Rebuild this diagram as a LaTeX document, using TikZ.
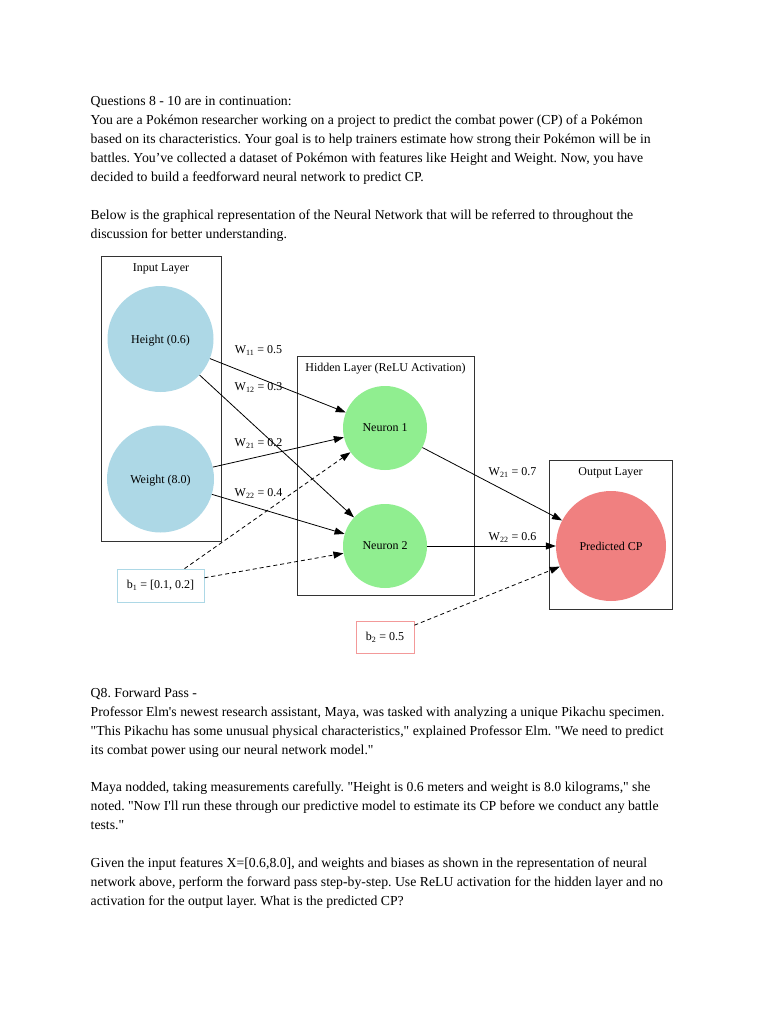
\documentclass[tikz,border=0pt]{standalone}
\usepackage{fontspec}
\setmainfont{Liberation Serif}
\usetikzlibrary{arrows.meta,positioning}

\definecolor{inblue}{HTML}{ADD8E6}
\definecolor{hidgreen}{HTML}{90EE90}
\definecolor{outred}{HTML}{F08080}
\newcommand{\qdbl}{\textquotedbl}
\newcommand{\qsgl}{\textquotesingle}
\frenchspacing

\begin{document}
\begin{tikzpicture}[x=1pt, y=-1pt,
        para/.style={anchor=base west, inner sep=0pt, font=\fontsize{13.75}{19}\selectfont},
        layer/.style={draw=black!80, line width=0.9pt, inner sep=0pt},
        title/.style={inner sep=0pt, font=\fontsize{12}{14}\selectfont},
        neuron/.style={circle, inner sep=0pt, text depth=0pt, font=\fontsize{12}{14}\selectfont},
        bias/.style={rectangle, line width=0.8pt, inner sep=0pt, font=\fontsize{12}{14}\selectfont},
        wlabel/.style={inner sep=0pt, font=\fontsize{12}{14}\selectfont},
        wire/.style={->, line width=0.8pt},
        bwire/.style={->, line width=0.8pt, dash pattern=on 4pt off 3pt},
        >={Triangle[length=10pt, width=7pt]}]
        \fill[white] (0,0) rectangle (768,1024);
        \useasboundingbox (0,0) rectangle (768,1024);

        %text above the picture
        \node[para] (intro) at (90.5,106) {Questions 8 - 10 are in continuation:};
        \node[para] (introa) at (90.5,125) {You are a Pokémon researcher working on a project to predict the combat power (CP) of a Pokémon};
        \node[para] (introb) at (90.5,144) {based on its characteristics. Your goal is to help trainers estimate how strong their Pokémon will be in};
        \node[para] (introc) at (90.5,163) {battles. You’ve collected a dataset of Pokémon with features like Height and Weight. Now, you have};
        \node[para] (introd) at (90.5,182) {decided to build a feedforward neural network to predict CP.};
        \node[para] (below) at (90.5,219) {Below is the graphical representation of the Neural Network that will be referred to throughout the};
        \node[para] (belowa) at (90.5,238) {discussion for better understanding.};

        %layers
        \node[layer, minimum width=120pt, minimum height=285pt] (inlayer) at (161,398.5) {};
        \node[layer, minimum width=177pt, minimum height=239pt] (hidlayer) at (385.5,475.5) {};
        \node[layer, minimum width=123pt, minimum height=149pt] (outlayer) at (610.5,534.5) {};
        \node[title, below=8pt of inlayer.north] (intitle) {Input Layer};
        \node[title, below=7pt of hidlayer.north] (hidtitle) {Hidden Layer (ReLU Activation)};
        \node[title, below=8pt of outlayer.north] (outtitle) {Output Layer};

        %neurons
        \node[neuron, fill=inblue, minimum size=106pt] (height) at (160.5,339) {Height (0.6)};
        \node[neuron, fill=inblue, minimum size=107pt] (weight) at (160.5,479) {Weight (8.0)};
        \node[neuron, fill=hidgreen, minimum size=84pt] (n1) at (385,428) {Neuron 1};
        \node[neuron, fill=hidgreen, minimum size=84pt] (n2) at (385,546) {Neuron 2};
        \node[neuron, fill=outred, minimum size=110pt] (cp) at (611,546) {Predicted CP};

        %biases
        \node[bias, draw=inblue, minimum width=87pt, minimum height=33pt] (b1) at (160.5,585.5) {b\textsubscript{1} = [0.1, 0.2]};
        \node[bias, draw=outred!80, minimum width=58pt, minimum height=32pt] (b2) at (385,637) {b\textsubscript{2} = 0.5};

        %weights
        \node[wlabel] (w11) at (258.5,350.5) {W\textsubscript{11} = 0.5};
        \node[wlabel] (w12) at (258.5,387.5) {W\textsubscript{12} = 0.3};
        \node[wlabel] (w21) at (258.5,443.5) {W\textsubscript{21} = 0.2};
        \node[wlabel] (w22) at (258.5,493.5) {W\textsubscript{22} = 0.4};
        \node[wlabel] (v21) at (512.5,472.5) {W\textsubscript{21} = 0.7};
        \node[wlabel] (v22) at (512.5,537.5) {W\textsubscript{22} = 0.6};

        %height to neuron 1 and 2
        \draw[wire] (height) -- (n1);
        \draw[wire] (height) -- (n2);

        %weight to neuron 1 and 2
        \draw[wire] (weight) -- (n1);
        \draw[wire] (weight) -- (n2);

        %b1 to the hidden layer
        \draw[bwire] (b1) -- (n1);
        \draw[bwire] (b1) -- (n2);

        %hidden layer to predicted CP
        \draw[wire] (n1) -- (cp);
        \draw[wire] (n2) -- (cp);
        \draw[bwire] (b2) -- (cp);

        %text below the picture
        \node[para] (q8) at (90.5,697) {Q8. Forward Pass -};
        \node[para] (q8a) at (90.5,716) {Professor Elm\qsgl s newest research assistant, Maya, was tasked with analyzing a unique Pikachu specimen.};
        \node[para] (q8b) at (90.5,735) {\qdbl This Pikachu has some unusual physical characteristics,\qdbl{} explained Professor Elm. \qdbl We need to predict};
        \node[para] (q8c) at (90.5,754) {its combat power using our neural network model.\qdbl};
        \node[para] (maya) at (90.5,791.5) {Maya nodded, taking measurements carefully. \qdbl Height is 0.6 meters and weight is 8.0 kilograms,\qdbl{} she};
        \node[para] (mayaa) at (90.5,810.5) {noted. \qdbl Now I\qsgl ll run these through our predictive model to estimate its CP before we conduct any battle};
        \node[para] (mayab) at (90.5,829.5) {tests.\qdbl};
        \node[para] (given) at (90.5,867.5) {Given the input features X=[0.6,8.0], and weights and biases as shown in the representation of neural};
        \node[para] (givena) at (90.5,886.5) {network above, perform the forward pass step-by-step. Use ReLU activation for the hidden layer and no};
        \node[para] (givenb) at (90.5,905.5) {activation for the output layer. What is the predicted CP?};
    \end{tikzpicture}
\end{document}
